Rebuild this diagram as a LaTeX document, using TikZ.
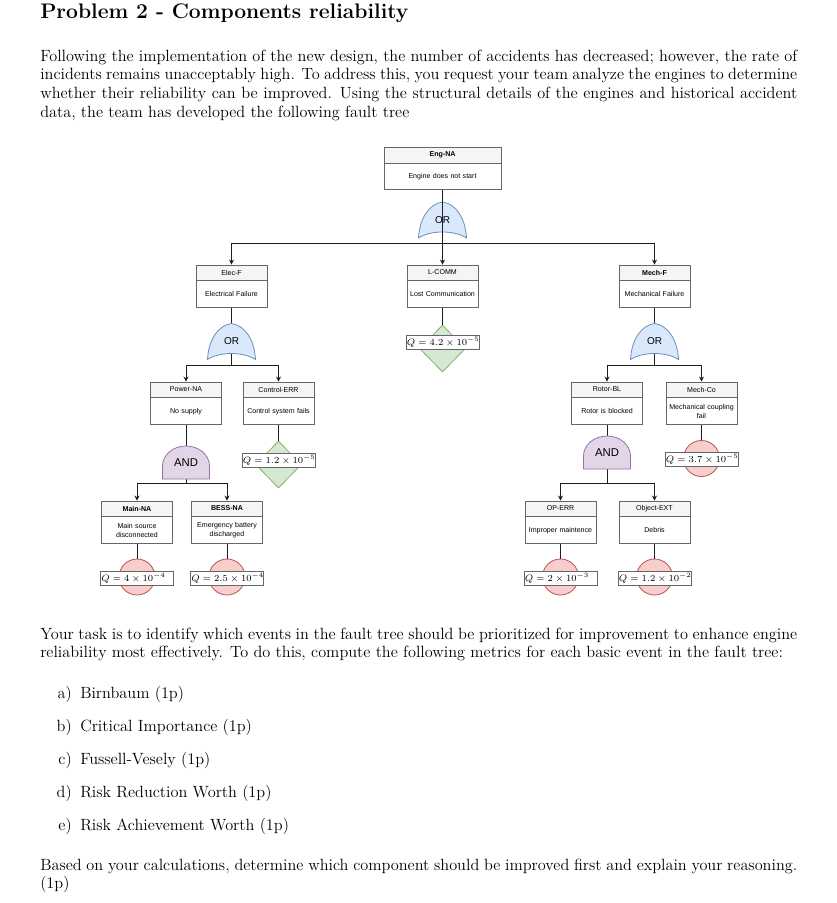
\documentclass[tikz,border=0pt]{standalone}
\usepackage{fontspec}
\usepackage{amsmath}
\usepackage{tikz}
\usetikzlibrary{shapes.geometric, arrows.meta, positioning, backgrounds}
\newfontfamily\dio{Liberation Sans}
\definecolor{mydark}{RGB}{30,30,30}
\definecolor{boxgray}{RGB}{102,102,102}
\definecolor{hdrgray}{RGB}{245,245,245}
\definecolor{orblue}{RGB}{108,142,191}
\definecolor{hdrblue}{RGB}{218,232,252}
\definecolor{andpurple}{RGB}{150,115,166}
\definecolor{hdrpurple}{RGB}{225,213,231}
\definecolor{evred}{RGB}{184,84,80}
\definecolor{hdrred}{RGB}{248,206,204}
\definecolor{devgreen}{RGB}{130,179,102}
\definecolor{hdrgreen}{RGB}{213,232,212}
\tikzset{
  evhead/.style={rectangle, draw=boxgray, fill=hdrgray,
    minimum width=53.25pt, minimum height=11.25pt, inner sep=0pt,
    font=\dio\fontsize{5.3}{6.5}\selectfont, line width=0.6pt},
  evbody/.style={rectangle, draw=boxgray, fill=white,
    minimum width=53.25pt, minimum height=20.25pt, inner sep=0pt,
    text width=52pt, align=center,
    font=\dio\fontsize{5.3}{6.75}\selectfont, line width=0.6pt},
  orgate/.style={rectangle, minimum width=36pt, minimum height=27.75pt,
    inner sep=0pt, font=\dio\fontsize{7.5}{9}\selectfont},
  andgate/.style={rectangle, minimum width=35.25pt, minimum height=24.75pt,
    inner sep=0pt, font=\dio\fontsize{8.5}{10}\selectfont},
  orshape/.style={draw=orblue, fill=hdrblue, line width=0.6pt},
  andshape/.style={draw=andpurple, fill=hdrpurple, line width=0.6pt},
  basic/.style={circle, draw=evred, fill=hdrred, minimum size=27pt,
    inner sep=0pt, line width=0.6pt},
  undev/.style={diamond, draw=devgreen, fill=hdrgreen, minimum width=34.5pt,
    minimum height=35.25pt, inner sep=0pt, line width=0.6pt},
  qbox/.style={rectangle, draw=boxgray, fill=white, minimum height=10.5pt,
    inner xsep=0.6pt, inner ysep=0pt, text width=53.4pt, align=left,
    font=\fontsize{6.9}{9}\selectfont, line width=0.5pt},
  arrow/.style={-{Stealth[length=3.8pt, width=3.8pt]}, line width=0.75pt, color=mydark},
  line/.style={line width=0.75pt, color=mydark},
  bodytext/.style={anchor=base west, inner sep=0pt, text width=567.75pt,
    align=justify, font=\fontsize{12.2}{14.2}\selectfont},
  listtext/.style={anchor=base west, inner sep=0pt, font=\fontsize{12.2}{14.2}\selectfont}
}

\begin{document}
\begin{tikzpicture}[x=0.75pt, y=-0.75pt]
  \useasboundingbox (0,0) rectangle (836,903);

  % text of the problem
  \node[anchor=base west, inner sep=0pt, font=\fontsize{15.8}{19}\selectfont\bfseries]
    (title) at (40,18) {Problem 2 - Components reliability};
  \node[bodytext] (intro) at (40,61) {Following the implementation of the new design, the number of accidents has decreased; however, the rate of\linebreak
    incidents remains unacceptably high. To address this, you request your team analyze the engines to determine\linebreak
    whether their reliability can be improved. Using the structural details of the engines and historical accident\linebreak
    data, the team has developed the following fault tree};

  % top event
  \node[evhead, minimum width=87.75pt, minimum height=12pt] (eng-h) at (442.5,155) {\textbf{Eng-NA}};
  \node[evbody, minimum width=87.75pt, minimum height=19.5pt, text width=85pt, below=0pt of eng-h] (eng-b) {Engine does not start};
  \node[orgate] (eng-or) at (442.5,220) {OR};
  \coordinate (j-eng) at (442.5,243);

  % first level
  \node[evhead] (elec-h) at (231.5,272.5) {Elec-F};
  \node[evbody, below=0pt of elec-h] (elec-b) {Electrical Failure};
  \node[evhead] (lcomm-h) at (442.5,272.5) {L-COMM};
  \node[evbody, below=0pt of lcomm-h] (lcomm-b) {Lost Communication};
  \node[evhead] (mech-h) at (654.5,272.5) {\textbf{Mech-F}};
  \node[evbody, below=0pt of mech-h] (mech-b) {Mechanical Failure};

  \node[orgate] (elec-or) at (231.5,341.5) {OR};
  \node[orgate] (mech-or) at (654.5,341.5) {OR};
  \node[undev] (lcomm-e) at (442.5,348.5) {};
  \node[qbox] (lcomm-q) at (442.5,342.5) {\mbox{$Q = 4.2 \times 10^{-5}$}};
  \coordinate (j-elec) at (231.5,365);
  \coordinate (j-mech) at (654.5,365);

  % second level
  \node[evhead] (power-h) at (186,389.5) {Power-NA};
  \node[evbody, below=0pt of power-h] (power-b) {No supply};
  \node[evhead] (ctrl-h) at (278.5,389.5) {Control-ERR};
  \node[evbody, below=0pt of ctrl-h] (ctrl-b) {Control system fails};
  \node[evhead] (rotor-h) at (607,389.5) {Rotor-BL};
  \node[evbody, below=0pt of rotor-h] (rotor-b) {Rotor is blocked};
  \node[evhead] (mechco-h) at (701.5,389.5) {Mech-Co};
  \node[evbody, below=0pt of mechco-h] (mechco-b) {Mechanical coupling\\fail};

  \node[andgate] (power-and) at (186,462.5) {AND};
  \node[andgate] (rotor-and) at (607,452.5) {AND};
  \node[undev] (ctrl-e) at (278.5,464.5) {};
  \node[qbox] (ctrl-q) at (278.5,460) {\mbox{$Q = 1.2 \times 10^{-5}$}};
  \node[basic] (mechco-e) at (701.5,458.5) {};
  \node[qbox] (mechco-q) at (701.5,459) {\mbox{$Q = 3.7 \times 10^{-5}$}};
  \coordinate (j-power) at (186,483);
  \coordinate (j-rotor) at (607,483);

  % basic events
  \node[evhead] (main-h) at (137,508.5) {\textbf{Main-NA}};
  \node[evbody, below=0pt of main-h] (main-b) {Main source\\disconnected};
  \node[evhead] (bess-h) at (227,508.5) {\textbf{BESS-NA}};
  \node[evbody, below=0pt of bess-h] (bess-b) {Emergency battery\\discharged};
  \node[evhead] (operr-h) at (560.5,508.5) {OP-ERR};
  \node[evbody, below=0pt of operr-h] (operr-b) {Improper maintence};
  \node[evhead] (objext-h) at (654.5,508.5) {Object-EXT};
  \node[evbody, below=0pt of objext-h] (objext-b) {Debris};

  \node[basic] (main-e) at (137,577) {};
  \node[basic] (bess-e) at (227,577) {};
  \node[basic] (operr-e) at (560.5,577) {};
  \node[basic] (objext-e) at (654.5,577) {};
  \node[qbox] (main-q) at (137,578) {\mbox{$Q = 4 \times 10^{-4}$}};
  \node[qbox] (bess-q) at (227,578) {\mbox{$Q = 2.5 \times 10^{-4}$}};
  \node[qbox] (operr-q) at (560.5,578) {\mbox{$Q = 2 \times 10^{-3}$}};
  \node[qbox] (objext-q) at (654.5,578) {\mbox{$Q = 1.2 \times 10^{-2}$}};

  % connectors and gate outlines behind the labels
  \begin{scope}[on background layer]
    \fill[white] (0,0) rectangle (836,903);
    \draw[line] (elec-b) -- (j-elec);
    \draw[line] (mech-b) -- (j-mech);
    \draw[line] (power-b) -- (j-power);
    \draw[line] (rotor-b) -- (j-rotor);
    \foreach \g in {eng-or, elec-or, mech-or} {
      \begin{scope}[shift={(\g.center)}]
        \filldraw[orshape] (-24,18) .. controls (-23,-1) and (-14,-16) .. (0,-18)
          .. controls (14,-16) and (23,-1) .. (24,18)
          .. controls (12,10) and (-12,10) .. (-24,18) -- cycle;
      \end{scope}
    }
    \foreach \g in {power-and, rotor-and} {
      \begin{scope}[shift={(\g.center)}]
        \filldraw[andshape] (-23.5,16.5) -- (-23.5,3.5)
          .. controls (-23.5,-7.5) and (-13,-16.5) .. (0,-16.5)
          .. controls (13,-16.5) and (23.5,-7.5) .. (23.5,3.5) -- (23.5,16.5) -- cycle;
      \end{scope}
    }
  \end{scope}
  \draw[line] (eng-b) -- (j-eng);
  \draw[line] (lcomm-b) -- (lcomm-e);
  \draw[line] (ctrl-b) -- (ctrl-e);
  \draw[line] (mechco-b) -- (mechco-e);
  \draw[line] (main-b) -- (main-e);
  \draw[line] (bess-b) -- (bess-e);
  \draw[line] (operr-b) -- (operr-e);
  \draw[line] (objext-b) -- (objext-e);

  \draw[arrow] (j-eng) -| (elec-h);
  \draw[arrow] (j-eng) -- (lcomm-h);
  \draw[arrow] (j-eng) -| (mech-h);
  \draw[arrow] (j-elec) -| (power-h);
  \draw[arrow] (j-elec) -| (ctrl-h);
  \draw[arrow] (j-mech) -| (rotor-h);
  \draw[arrow] (j-mech) -| (mechco-h);
  \draw[arrow] (j-power) -| (main-h);
  \draw[arrow] (j-power) -| (bess-h);
  \draw[arrow] (j-rotor) -| (operr-h);
  \draw[arrow] (j-rotor) -| (objext-h);

  % task
  \node[bodytext] (task) at (40,639) {Your task is to identify which events in the fault tree should be prioritized for improvement to enhance engine\linebreak
    reliability most effectively. To do this, compute the following metrics for each basic event in the fault tree:};
  \foreach \lbl/\txt [count=\i from 0] in {a)/Birnbaum (1p), b)/Critical Importance (1p),
      c)/Fussell-Vesely (1p), d)/Risk Reduction Worth (1p), e)/Risk Achievement Worth (1p)} {
    \node[listtext, anchor=base east] (lbl-\i) at (72,{698+33.2*\i}) {\lbl};
    \node[listtext] (item-\i) at (80,{698+33.2*\i}) {\txt};
  }
  \node[bodytext] (final) at (40,870) {Based on your calculations, determine which component should be improved first and explain your reasoning.\linebreak
    (1p)};
\end{tikzpicture}
\end{document}
